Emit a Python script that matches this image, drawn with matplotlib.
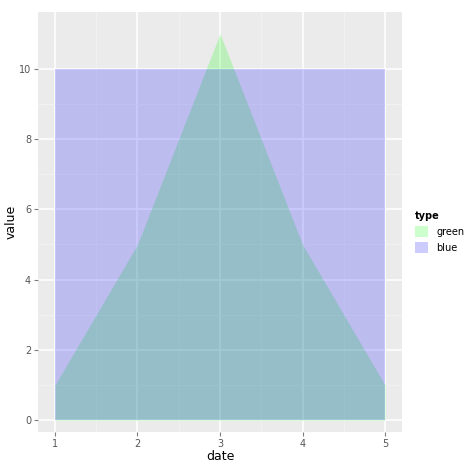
import matplotlib.pyplot as plt
import numpy as np

dates = [1, 2, 3, 4, 5]
green_vals = [1, 5, 11, 5, 1]
blue_vals = [10, 10, 10, 10, 10]

fig = plt.figure(figsize=(4.74, 4.74), dpi=100)
ax = fig.add_axes([38/474, 42/474, 364/474, 420/474])
ax.set_facecolor('#ebebeb')
for s in ax.spines.values():
    s.set_visible(False)

ax.set_xlim(0.794, 5.206)
ax.set_ylim(-0.34, 11.62)
ax.set_xticks([1, 2, 3, 4, 5])
ax.set_yticks([0, 2, 4, 6, 8, 10])
ax.set_xticks(np.arange(1.5, 5, 1), minor=True)
ax.set_yticks(np.arange(1, 11, 2), minor=True)
ax.grid(True, which='major', color='white', lw=1.1)
ax.grid(True, which='minor', color='#f5f5f5', lw=0.5)
ax.set_axisbelow(True)
ax.tick_params(which='major', colors='#7f7f7f', labelsize=7, length=3, pad=2, labelcolor='#555555')
ax.tick_params(which='minor', length=0)

hg = ax.fill_between(dates, 0, green_vals, color='#00ff00', alpha=0.2, lw=0)
hb = ax.fill_between(dates, 0, blue_vals, color='#0000ff', alpha=0.2, lw=0)

ax.set_xlabel('date', fontsize=9, labelpad=1)
ax.set_ylabel('value', fontsize=9, labelpad=1)

leg = fig.legend([hg, hb], ['green', 'blue'], title='type', loc='center left',
                 bbox_to_anchor=(406/474, 0.51), frameon=False, fontsize=7,
                 title_fontsize=7, handlelength=1.4, handleheight=1.4, alignment='left')
leg.get_title().set_fontweight('bold')

fig.savefig('out.png', dpi=100)
